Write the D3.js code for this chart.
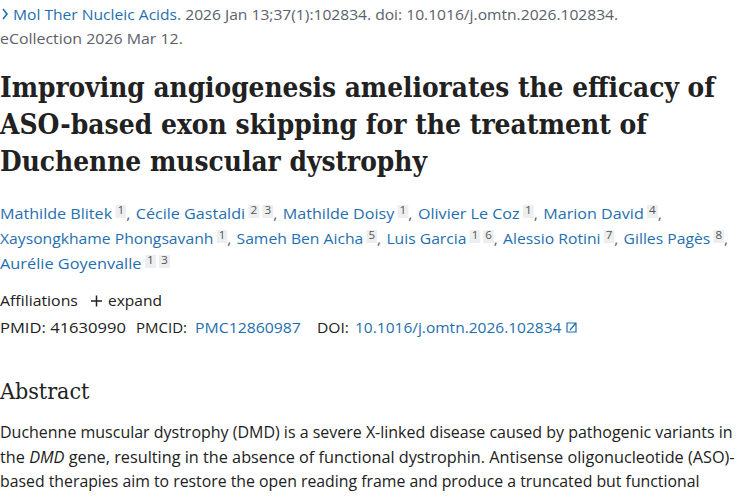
<!DOCTYPE html>
<html><head><meta charset="utf-8">
<script src="https://cdn.jsdelivr.net/npm/d3@7"></script>
<style>body{margin:0;background:#fff}svg{display:block}</style>
</head><body><svg id="page" width="750" height="500"></svg>
<script>
// citation lines: [segments], each segment = [text, color]
const citeLines = [
  [["Mol Ther Nucleic Acids.", "link"], [" 2026 Jan 13;37(1):102834. doi: 10.1016/j.omtn.2026.102834.", "grey"]],
  [["eCollection 2026 Mar 12.", "grey"]]
];
const citeWidths = [619, 183];
const titleLines = ["Improving angiogenesis ameliorates the efficacy of",
  "ASO-based exon skipping for the treatment of", "Duchenne muscular dystrophy"];
const titleWidths = [717, 650, 428];
const authorNames = ["Mathilde Blitek", "Cécile Gastaldi", "Mathilde Doisy", "Olivier Le Coz", "Marion David",
  "Xaysongkhame Phongsavanh", "Sameh Ben Aicha", "Luis Garcia", "Alessio Rotini", "Gilles Pagès",
  "Aurélie Goyenvalle"];
const authorAffils = [[1], [2, 3], [1], [1], [4], [1], [5], [1, 6], [7], [8], [1, 3]];
const authorLineOf = [0, 0, 0, 0, 0, 1, 1, 1, 1, 1, 2];
const authorLineWidths = [662, 728, 170];
const abstractLines = [
  [["Duchenne muscular dystrophy (DMD) is a severe X-linked disease caused by pathogenic variants in", false]],
  [["the ", false], ["DMD", true], [" gene, resulting in the absence of functional dystrophin. Antisense oligonucleotide (ASO)-", false]],
  [["based therapies aim to restore the open reading frame and produce a truncated but functional", false]]
];
const abstractWidths = [733, 735, 700];

const C = {link: "#1f6fb0", grey: "#5b616b", text: "#212121", supBg: "#eceef0"};
const sans = "'Open Sans', 'Noto Sans', sans-serif";
const serif = "'DejaVu Serif', 'Liberation Serif', serif";
const svg = d3.select("#page");

// squeeze a placed group to the target width
function fitLine(g, target) {
  const w = g.node().getBBox().width;
  g.attr("transform", `${g.attr("transform") || ""} scale(${target / w},1)`);
}

// citation
const citeY = [20, 44];
svg.append("path").attr("d", "M3,9 L7,14 L3,19").attr("fill", "none")
  .attr("stroke", C.link).attr("stroke-width", 1.6);
citeLines.forEach((segs, i) => {
  const g = svg.append("g").attr("transform", `translate(${i ? 0 : 13},${citeY[i]})`);
  const t = g.append("text").attr("font-family", sans).attr("font-size", 15).attr("xml:space", "preserve");
  t.selectAll("tspan").data(segs).join("tspan")
    .attr("fill", d => C[d[1]]).text(d => d[0]);
  fitLine(g, citeWidths[i] - (i ? 0 : 13));
});

// title
titleLines.forEach((s, i) => {
  const g = svg.append("g").attr("transform", `translate(0,${97 + i * 37})`);
  g.append("text").attr("font-family", serif).attr("font-size", 28).attr("font-weight", 600)
    .attr("fill", "#212121").text(s);
  fitLine(g, titleWidths[i]);
});

// authors
const authorGroups = d3.range(3).map(i =>
  svg.append("g").attr("transform", `translate(0,${219 + i * 25})`));
const cursor = [0, 0, 0];
authorNames.forEach((name, k) => {
  const li = authorLineOf[k], g = authorGroups[li];
  const put = (txt, color) => {
    const t = g.append("text").attr("x", cursor[li]).attr("font-family", sans)
      .attr("font-size", 15).attr("fill", color).text(txt);
    cursor[li] += t.node().getComputedTextLength();
  };
  if (k > 0 && authorLineOf[k - 1] === li) { put(",", C.grey); cursor[li] += 5; }
  put(name, C.link);
  authorAffils[k].forEach(a => {
    cursor[li] += 4;
    const x0 = cursor[li];
    g.append("rect").attr("x", x0 - 1).attr("y", -14).attr("width", 10).attr("height", 13)
      .attr("fill", C.supBg);
    g.append("text").attr("x", x0 + 4).attr("y", -5).attr("text-anchor", "middle")
      .attr("font-family", sans).attr("font-size", 11).attr("fill", "#555").text(a);
    cursor[li] += 9;
  });
  if (k < authorNames.length - 1 && authorLineOf[k + 1] !== li) put(",", C.grey);
});
authorGroups.forEach((g, i) => fitLine(g, authorLineWidths[i]));

// affiliations + ids
const ga = svg.append("g").attr("transform", "translate(0,306)");
ga.append("text").attr("font-family", sans).attr("font-size", 15).attr("fill", C.text).text("Affiliations");
fitLine(ga, 78);
svg.append("path").attr("d", "M91,301 h11 M96.5,295.5 v11").attr("stroke", C.text).attr("stroke-width", 1.5);
const ge = svg.append("g").attr("transform", "translate(108,306)");
ge.append("text").attr("font-family", sans).attr("font-size", 15).attr("fill", C.text).text("expand");
fitLine(ge, 54);

const idSegs = [["PMID: 41630990", C.text, 0, 126], ["PMCID:", C.text, 136, 51],
  ["PMC12860987", C.link, 195, 106], ["DOI:", C.text, 317, 32], ["10.1016/j.omtn.2026.102834", C.link, 355, 207]];
idSegs.forEach(d => {
  const g = svg.append("g").attr("transform", `translate(${d[2]},333)`);
  g.append("text").attr("font-family", sans).attr("font-size", 15).attr("fill", d[1]).text(d[0]);
  fitLine(g, d[3]);
});
svg.append("path").attr("d", "M567,323 v9 h9 v-9 z M570,330 l6,-7 M572,323 h4 v4")
  .attr("fill", "none").attr("stroke", C.link).attr("stroke-width", 1.2);

// abstract
const gh = svg.append("g").attr("transform", "translate(0,399)");
gh.append("text").attr("font-family", serif).attr("font-size", 23).attr("fill", C.text).text("Abstract");
fitLine(gh, 91);

abstractLines.forEach((segs, i) => {
  const g = svg.append("g").attr("transform", `translate(0,${438 + i * 24.5})`);
  const t = g.append("text").attr("font-family", sans).attr("font-size", 16).attr("fill", C.text)
    .attr("xml:space", "preserve");
  t.selectAll("tspan").data(segs).join("tspan")
    .attr("font-style", d => d[1] ? "italic" : "normal").text(d => d[0]);
  fitLine(g, abstractWidths[i]);
});
</script></body></html>
